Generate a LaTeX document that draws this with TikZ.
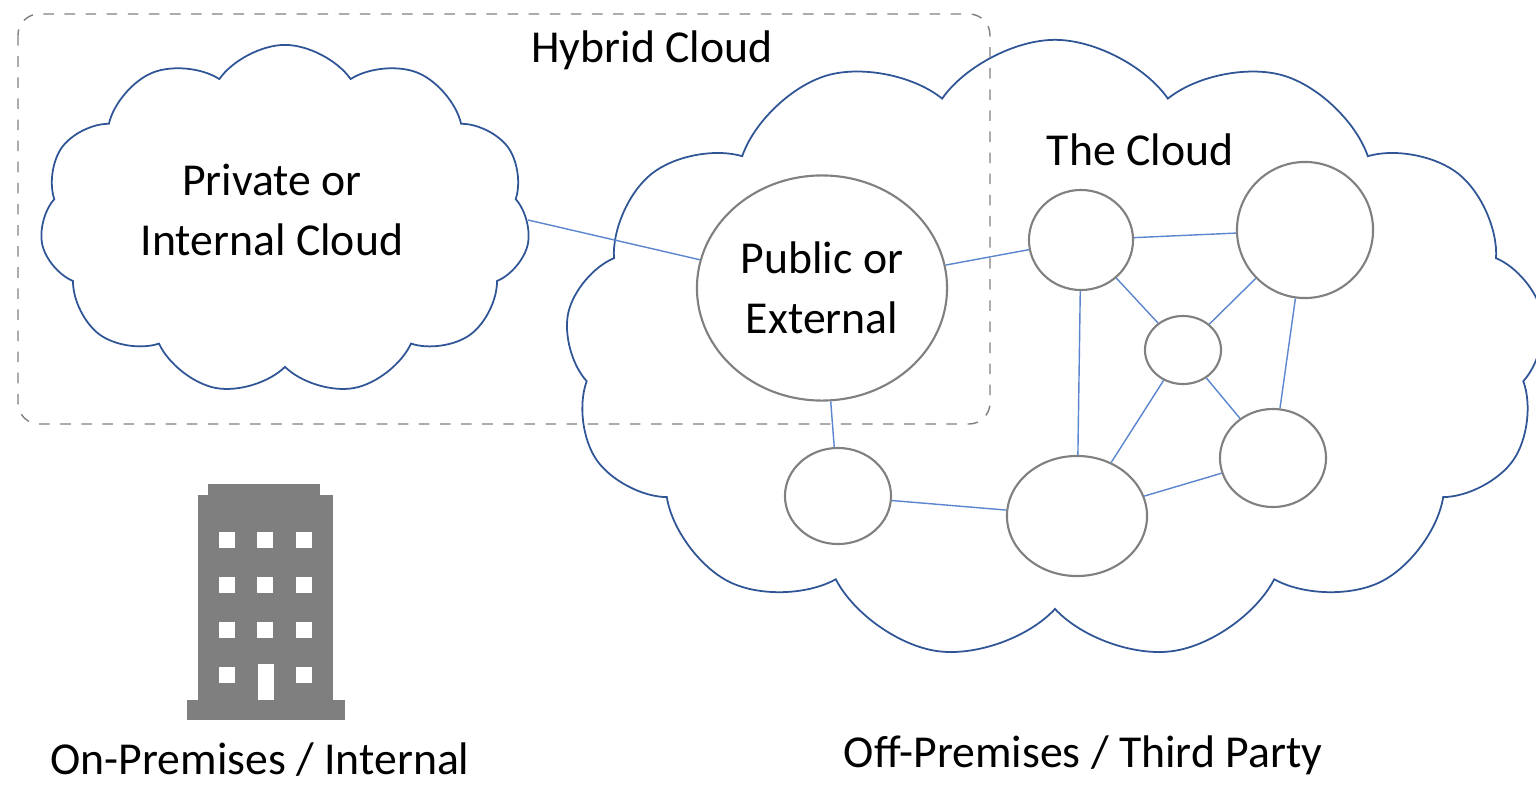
\documentclass[tikz,border=0pt]{standalone}
\usepackage{fontspec}
\setmainfont{Carlito}
\usetikzlibrary{shapes.symbols,shapes.geometric}
\definecolor{cloudblue}{HTML}{2F5597}
\definecolor{linkblue}{HTML}{5B86CF}
\definecolor{ringgray}{HTML}{808080}
\definecolor{bldgray}{HTML}{7F7F7F}
\begin{document}
\begin{tikzpicture}[
       x={(0.01cm,0)}, y={(0,-0.01cm)},
       font=\fontsize{13}{17}\selectfont,
       cloudy/.style={
         cloud,
         draw=cloudblue,
         fill=white,
         line width=0.5pt,
         cloud puffs=13,
         cloud puff arc=110
       },
       ring/.style={
         ellipse,
         draw=ringgray,
         line width=0.6pt,
         fill=white,
         inner sep=0pt
       },
       link/.style={draw=linkblue,line width=0.4pt}
     ]
\useasboundingbox (0,0) rectangle (1536,797);
\node[cloudy,minimum width=9.8cm,minimum height=6.2cm] (bigcloud) at (1055,350) {};
\node[cloudy,cloud puffs=11,minimum width=4.9cm,minimum height=3.5cm] (privcloud) at (285,220) {};
\draw[dashed,ringgray,rounded corners=6pt] (18,14) rectangle (990,424);

\node[ring,minimum width=2.5cm,minimum height=2.25cm,align=center] (pub) at (822,288) {Public or\\External};
\node[ring,minimum width=1.04cm,minimum height=1cm] (tl) at (1081,240) {};
\node[ring,minimum width=1.36cm,minimum height=1.36cm] (tr) at (1305,230) {};
\node[ring,minimum width=0.76cm,minimum height=0.68cm] (mid) at (1183,350) {};
\node[ring,minimum width=1.06cm,minimum height=0.98cm] (rt) at (1273,458) {};
\node[ring,minimum width=1.4cm,minimum height=1.2cm] (bc) at (1077,516) {};
\node[ring,minimum width=1.06cm,minimum height=0.96cm] (bl) at (838,496) {};

\draw[link] (privcloud.east)--(pub);
\draw[link] (pub)--(tl);
\draw[link] (pub)--(bl)--(bc)--(rt)--(tr)--(tl)--(bc);
\draw[link] (tl)--(mid)--(tr);
\draw[link] (bc)--(mid)--(rt);

\node (hybrid) at (652,50) {Hybrid Cloud};
\node (thecloud) at (1140,150) {The Cloud};
\node[align=center] (privlabel) at (272,210) {Private or\\Internal Cloud};
\node (onprem) at (260,760) {On-Premises / Internal};
\node (offprem) at (1083,755) {Off-Premises / Third Party};

% building
\fill[bldgray] (208,484) rectangle (320,497);
\fill[bldgray] (198,495) rectangle (333,702);
\fill[bldgray] (187,700) rectangle (345,720);
\foreach \cx in {227,265,304}
  \foreach \cy in {540,585,630}
    \fill[white] (\cx-8,\cy-8) rectangle (\cx+8,\cy+8);
\fill[white] (219,667) rectangle (235,683);
\fill[white] (296,667) rectangle (312,683);
\fill[white] (258,664) rectangle (274,700);
\end{tikzpicture}
\end{document}
